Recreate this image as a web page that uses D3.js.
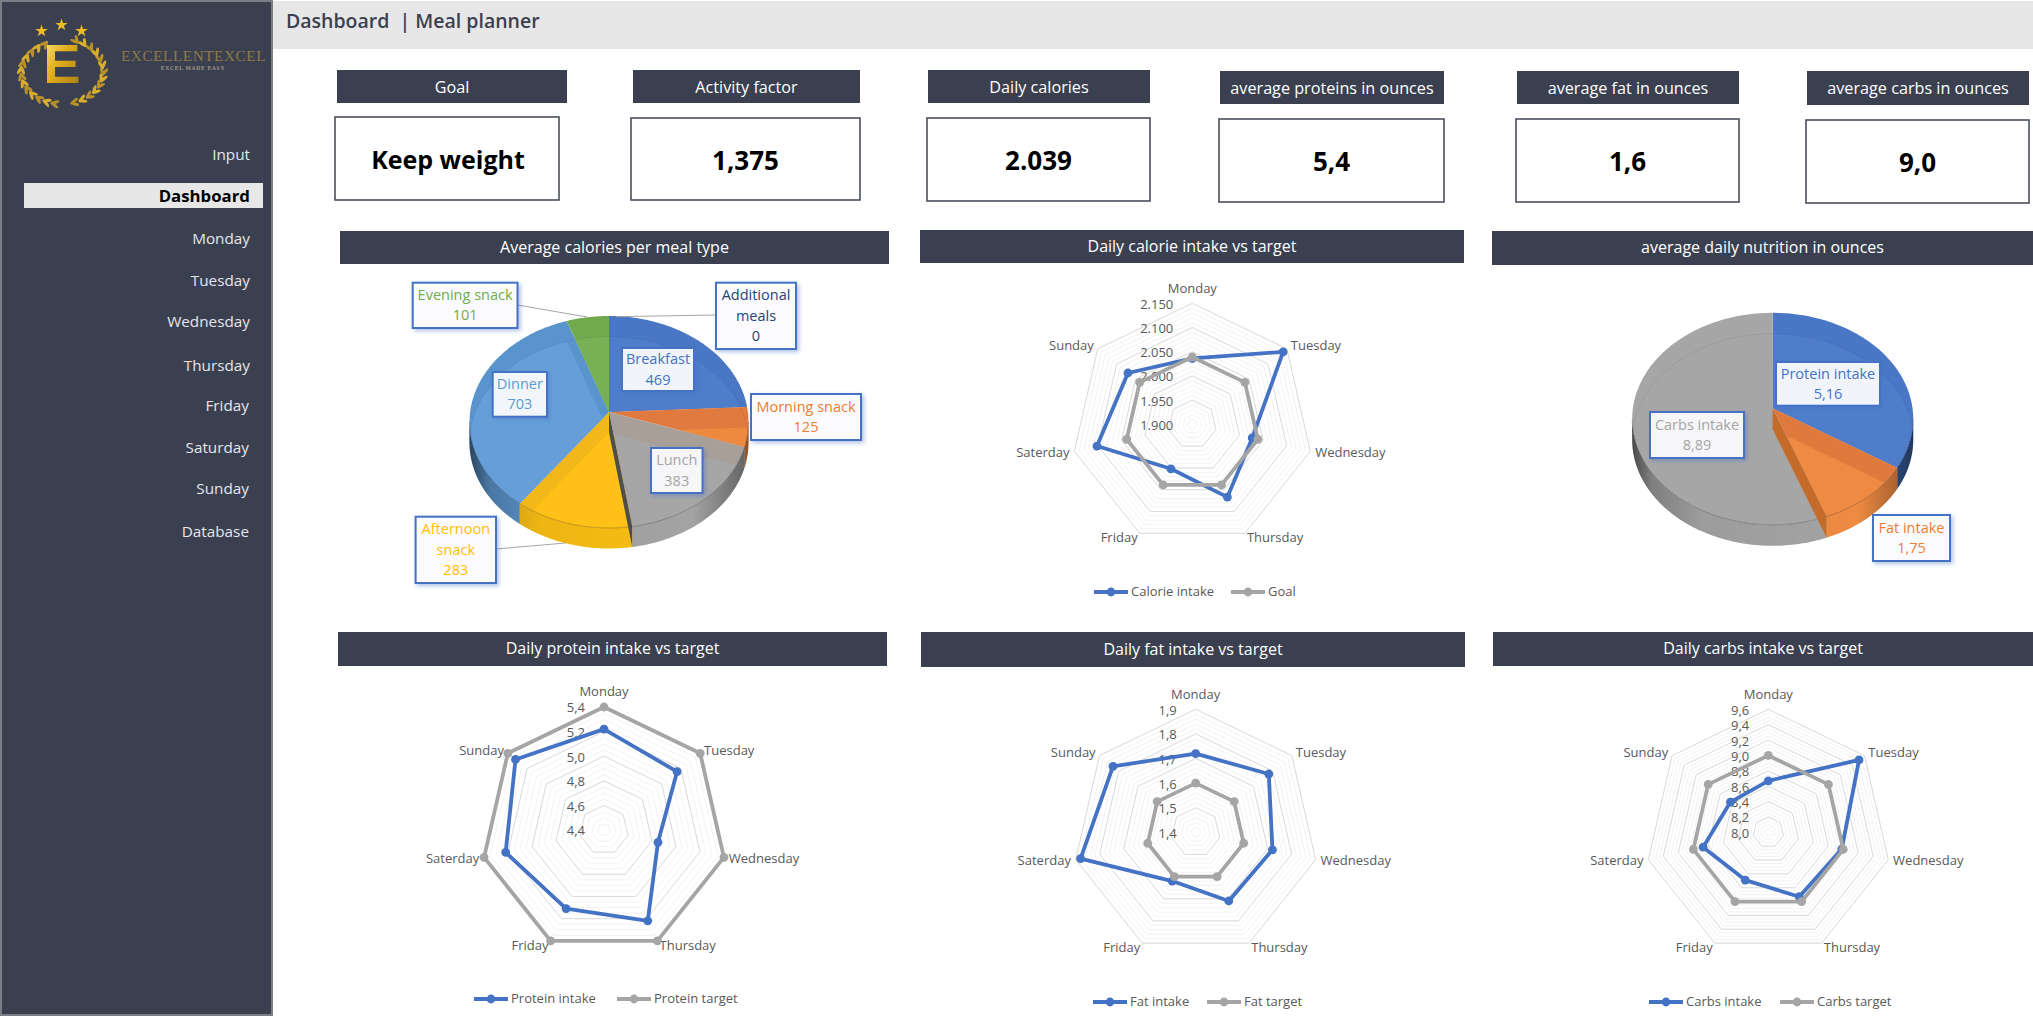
<!DOCTYPE html>
<html>
<head>
<meta charset="utf-8">
<title>Dashboard | Meal planner</title>
<script src="https://cdn.jsdelivr.net/npm/d3@7"></script>
<style>
  html, body { margin: 0; padding: 0; background: #fff; overflow: hidden; }
  svg { display: block; }
  text { font-family: "Open Sans", "Noto Sans", sans-serif; }
</style>
</head>
<body>
<div id="chart"></div>
<script>
// values
var days = ["Monday", "Tuesday", "Wednesday", "Thursday", "Friday", "Saterday", "Sunday"];
var menuItems = ["Input", "Dashboard", "Monday", "Tuesday", "Wednesday", "Thursday", "Friday", "Saturday", "Sunday", "Database"];

var kpiNames = ["Goal", "Activity factor", "Daily calories", "average proteins in ounces", "average fat in ounces", "average carbs in ounces"];
var kpiValues = ["Keep weight", "1,375", "2.039", "5,4", "1,6", "9,0"];

var mealNames = ["Breakfast", "Morning snack", "Lunch", "Afternoon snack", "Dinner", "Evening snack", "Additional meals"];
var mealCalories = [469, 125, 383, 283, 703, 101, 0];

var nutritionNames = ["Protein intake", "Fat intake", "Carbs intake"];
var nutritionOunces = [5.16, 1.75, 8.89];

var calorieIntake = [2036, 2140, 2027, 2067, 2002, 2102, 2070];
var calorieGoal = [2039, 2039, 2039, 2039, 2039, 2039, 2039];
var calorieTicks = [1900, 1950, 2000, 2050, 2100, 2150];

var proteinIntake = [5.22, 5.16, 4.85, 5.22, 5.11, 5.22, 5.32];
var proteinTarget = [5.4, 5.4, 5.4, 5.4, 5.4, 5.4, 5.4];
var proteinTicks = [4.4, 4.6, 4.8, 5.0, 5.2, 5.4];

var fatIntake = [1.72, 1.78, 1.72, 1.71, 1.62, 1.88, 1.83];
var fatTarget = [1.6, 1.6, 1.6, 1.6, 1.6, 1.6, 1.6];
var fatTicks = [1.4, 1.5, 1.6, 1.7, 1.8, 1.9];

var carbsIntake = [8.67, 9.51, 8.98, 8.93, 8.69, 8.87, 8.63];
var carbsTarget = [9.0, 9.0, 9.0, 9.0, 9.0, 9.0, 9.0];
var carbsTicks = [8.0, 8.2, 8.4, 8.6, 8.8, 9.0, 9.2, 9.4, 9.6];

var width = 2033, height = 1036;
var navy = "#3b4050";
var blue = "#4472c4", gray = "#a5a5a5";

var locale = d3.formatLocale({decimal: ",", thousands: ".", grouping: [3], currency: ["", ""]});
var fmtThousands = locale.format(",.0f"), fmtOne = locale.format(".1f"), fmtTwo = locale.format(".2f");

var svg = d3.select("#chart").append("svg")
    .attr("width", width)
    .attr("height", height);

var defs = svg.append("defs");

var shadow = defs.append("filter").attr("id", "shadow")
    .attr("x", "-20%").attr("y", "-20%").attr("width", "150%").attr("height", "150%");
shadow.append("feDropShadow")
    .attr("dx", 2).attr("dy", 2).attr("stdDeviation", 2)
    .attr("flood-color", "#4472c4").attr("flood-opacity", 0.45);

var gold = defs.append("linearGradient").attr("id", "gold")
    .attr("x1", 0).attr("y1", 0).attr("x2", 1).attr("y2", 1);
gold.append("stop").attr("offset", "0%").attr("stop-color", "#fdeb8a");
gold.append("stop").attr("offset", "45%").attr("stop-color", "#e0ad1c");
gold.append("stop").attr("offset", "100%").attr("stop-color", "#9a7412");

var wallShade = defs.append("linearGradient").attr("id", "wallShade");
wallShade.append("stop").attr("offset", "0%").attr("stop-color", "#000").attr("stop-opacity", 0.55);
wallShade.append("stop").attr("offset", "7%").attr("stop-color", "#000").attr("stop-opacity", 0.22);
wallShade.append("stop").attr("offset", "25%").attr("stop-color", "#000").attr("stop-opacity", 0.04);
wallShade.append("stop").attr("offset", "80%").attr("stop-color", "#000").attr("stop-opacity", 0);
wallShade.append("stop").attr("offset", "100%").attr("stop-color", "#000").attr("stop-opacity", 0.4);

// sidebar and header band
svg.append("rect").attr("x", 1).attr("y", 1).attr("width", 271).attr("height", 1014)
    .attr("fill", navy).attr("stroke", "#7c7e85").attr("stroke-width", 2);
svg.append("rect").attr("x", 273).attr("y", 1).attr("width", width - 273).attr("height", 48).attr("fill", "#e7e7e7");
svg.append("text").attr("x", 286).attr("y", 23)
    .attr("fill", navy).attr("font-size", 19.5).attr("font-weight", 600)
    .attr("dominant-baseline", "middle").attr("xml:space", "preserve")
    .text("Dashboard  | Meal planner");

// logo
var logo = svg.append("g");
var starSym = d3.symbol().type(d3.symbolStar).size(48);
[[41.5, 31], [61.5, 25], [81.5, 31]].forEach(function (p) {
    logo.append("path").attr("d", starSym).attr("transform", "translate(" + p + ")").attr("fill", "#eebb22");
});
[-1, 1].forEach(function (side) {
    d3.range(14, 166, 12).forEach(function (deg, i) {
        var a = deg * Math.PI / 180;
        var px = 62 + side * 41 * Math.sin(a), py = 72 + 32 * Math.cos(a);
        var tilt = side * (deg > 90 ? 90 + (deg - 90) * 0.6 : deg * 0.9);
        [-28, 28].forEach(function (off) {
            logo.append("ellipse")
                .attr("rx", 4.6).attr("ry", 1.6)
                .attr("transform", "translate(" + px + "," + py + ") rotate(" + (-tilt + off) + ") translate(3,0)")
                .attr("fill", i % 2 ? "#d8ad30" : "#b8902a");
        });
    });
});
logo.append("text").attr("x", 62).attr("y", 83).attr("text-anchor", "middle")
    .attr("font-size", 56).attr("font-weight", 700).attr("fill", "url(#gold)")
    .style("font-family", "'Liberation Sans', sans-serif").text("E");
logo.append("text").attr("x", 193.5).attr("y", 61).attr("text-anchor", "middle")
    .attr("font-size", 15.2).attr("fill", "#8e7a48").attr("letter-spacing", 0.6)
    .style("font-family", "'Liberation Serif', serif").text("EXCELLENTEXCEL");
logo.append("text").attr("x", 193).attr("y", 70).attr("text-anchor", "middle")
    .attr("font-size", 5.6).attr("font-weight", 700).attr("fill", "#a09a88").attr("letter-spacing", 0.7)
    .style("font-family", "'Liberation Serif', serif").text("EXCEL MADE EASY");

// menu
var menuY = [156, 197, 240, 282, 323, 367, 407, 449, 490, 533];
var menuRight = [250, 250, 250, 250, 250, 250, 249, 249, 249, 249];
svg.append("rect").attr("x", 24).attr("y", 183).attr("width", 239).attr("height", 25).attr("fill", "#e7e7e7");
svg.selectAll(".menu")
    .data(menuItems)
  .enter().append("text")
    .attr("class", "menu")
    .attr("x", function (d, i) { return menuRight[i]; })
    .attr("y", function (d, i) { return menuY[i]; })
    .attr("text-anchor", "end")
    .attr("dominant-baseline", "middle")
    .attr("font-size", function (d) { return d === "Dashboard" ? 16.8 : 15.3; })
    .attr("font-weight", function (d) { return d === "Dashboard" ? 700 : 400; })
    .attr("fill", function (d) { return d === "Dashboard" ? "#000" : "#e4e6ea"; })
    .text(function (d) { return d; });

// kpi cards
var kpiHead = [[337, 70, 230, 33], [633, 70, 227, 33], [928, 70, 222, 33], [1220, 71, 224, 33], [1517, 71, 222, 33], [1807, 71, 222, 34]];
var kpiBox = [[335, 117, 224, 83], [631, 118, 229, 82], [927, 118, 223, 83], [1219, 119, 225, 83], [1516, 119, 223, 83], [1806, 120, 223, 83]];
kpiNames.forEach(function (name, i) {
    var h = kpiHead[i], b = kpiBox[i];
    svg.append("rect").attr("x", h[0]).attr("y", h[1]).attr("width", h[2]).attr("height", h[3]).attr("fill", navy);
    svg.append("text").attr("x", h[0] + h[2] / 2).attr("y", h[1] + h[3] / 2 + 2)
        .attr("text-anchor", "middle").attr("dominant-baseline", "middle")
        .attr("font-size", 16.2).attr("fill", "#fff").text(name);
    svg.append("rect").attr("x", b[0]).attr("y", b[1]).attr("width", b[2]).attr("height", b[3])
        .attr("fill", "#fff").attr("stroke", "#4a4f5c").attr("stroke-width", 1.6);
    svg.append("text").attr("x", b[0] + b[2] / 2 + (i === 0 ? 1 : 0)).attr("y", b[1] + b[3] / 2 + 4)
        .attr("text-anchor", "middle").attr("dominant-baseline", "middle")
        .attr("font-size", i === 0 ? 25 : 26).attr("font-weight", 700).attr("fill", "#000").text(kpiValues[i]);
});

// chart title bars
var titles = [
    ["Average calories per meal type", 340, 231, 549, 33],
    ["Daily calorie intake vs target", 920, 230, 544, 33],
    ["average daily nutrition in ounces", 1492, 231, 541, 34],
    ["Daily protein intake vs target", 338, 632, 549, 34],
    ["Daily fat intake vs target", 921, 632, 544, 35],
    ["Daily carbs intake vs target", 1493, 632, 540, 34]
];
titles.forEach(function (t) {
    svg.append("rect").attr("x", t[1]).attr("y", t[2]).attr("width", t[3]).attr("height", t[4]).attr("fill", navy);
    svg.append("text").attr("x", t[1] + t[3] / 2).attr("y", t[2] + t[4] / 2 + 1)
        .attr("text-anchor", "middle").attr("dominant-baseline", "middle")
        .attr("font-size", 16).attr("fill", "#fff").text(t[0]);
});

// radar charts
function drawRadar(c) {
    var g = svg.append("g").attr("transform", "translate(" + c.cx + "," + c.cy + ")");
    var step = 2 * Math.PI / days.length;
    var r = d3.scaleLinear().domain(d3.extent(c.ticks)).range([0, c.radius]);
    var ring = d3.lineRadial()
        .curve(d3.curveLinearClosed)
        .angle(function (d, i) { return i * step; })
        .radius(function (d) { return r(d); });

    r.ticks(c.minor).forEach(function (t) {
        g.append("path").attr("d", ring(days.map(function () { return t; })))
            .attr("fill", "none").attr("stroke", "#efefef").attr("stroke-width", 0.8);
    });
    c.ticks.slice(1).forEach(function (t) {
        g.append("path").attr("d", ring(days.map(function () { return t; })))
            .attr("fill", "none").attr("stroke", "#dcdcdc").attr("stroke-width", 1);
    });

    c.ticks.forEach(function (t) {
        g.append("text").attr("x", -19).attr("y", -r(t) + 2)
            .attr("text-anchor", "end").attr("dominant-baseline", "middle")
            .attr("font-size", 13).attr("fill", "#595959").text(c.format(t));
    });

    days.forEach(function (day, i) {
        var p = d3.pointRadial(i * step, c.radius + 5);
        var anchor = i === 0 ? "middle" : (i < 4 ? "start" : "end");
        g.append("text").attr("x", p[0]).attr("y", p[1] + 1 - (i === 0 ? 10 : 0))
            .attr("text-anchor", anchor).attr("dominant-baseline", "middle")
            .attr("font-size", 13).attr("fill", "#595959").text(day);
    });

    c.series.forEach(function (s) {
        g.append("path").attr("d", ring(s.values))
            .attr("fill", "none").attr("stroke", s.color).attr("stroke-width", 3.8).attr("stroke-linejoin", "round");
        g.selectAll(null)
            .data(s.values)
          .enter().append("circle")
            .attr("r", 4.4)
            .attr("cx", function (d, i) { return d3.pointRadial(i * step, r(d))[0]; })
            .attr("cy", function (d, i) { return d3.pointRadial(i * step, r(d))[1]; })
            .attr("fill", s.color);
    });

    c.series.forEach(function (s, i) {
        var x = c.legendX[i];
        var item = svg.append("g").attr("transform", "translate(" + x + "," + c.legendY + ")");
        item.append("line").attr("x1", 0).attr("x2", 34).attr("stroke", s.color).attr("stroke-width", 3.8);
        item.append("circle").attr("cx", 17).attr("r", 4.4).attr("fill", s.color);
        item.append("text").attr("x", 37).attr("y", 1).attr("dominant-baseline", "middle")
            .attr("font-size", 13).attr("fill", "#595959").text(s.name);
    });
}

drawRadar({
    cx: 1192.3, cy: 424.3, radius: 121, ticks: calorieTicks, minor: 25, format: fmtThousands,
    legendX: [1094, 1231], legendY: 592,
    series: [{name: "Calorie intake", values: calorieIntake, color: blue}, {name: "Goal", values: calorieGoal, color: gray}]
});
drawRadar({
    cx: 604, cy: 830, radius: 123, ticks: proteinTicks, minor: 25, format: fmtOne,
    legendX: [474, 617], legendY: 999,
    series: [{name: "Protein intake", values: proteinIntake, color: blue}, {name: "Protein target", values: proteinTarget, color: gray}]
});
drawRadar({
    cx: 1195.7, cy: 832.3, radius: 123, ticks: fatTicks, minor: 25, format: fmtOne,
    legendX: [1093, 1207], legendY: 1002,
    series: [{name: "Fat intake", values: fatIntake, color: blue}, {name: "Fat target", values: fatTarget, color: gray}]
});
drawRadar({
    cx: 1768.3, cy: 832.3, radius: 123, ticks: carbsTicks, minor: 40, format: fmtOne,
    legendX: [1649, 1780], legendY: 1002,
    series: [{name: "Carbs intake", values: carbsIntake, color: blue}, {name: "Carbs target", values: carbsTarget, color: gray}]
});

// 3d pies
var pieCount = 0;
function drawPie3d(c) {
    var id = "pie" + (pieCount++);
    var g = svg.append("g").attr("transform", "translate(" + c.cx + "," + c.cy + ")");
    var slices = d3.pie().sort(null)(c.values);
    var line = d3.line();

    function edge(a, dy) { return [c.rx * Math.sin(a), -c.ry * Math.cos(a) + (dy || 0)]; }
    function arcPoints(a0, a1, dy) {
        var n = Math.max(2, Math.ceil(Math.abs(a1 - a0) / 0.02));
        return d3.range(n + 1).map(function (k) { return edge(a0 + (a1 - a0) * k / n, dy); });
    }
    function face(s, dy) {
        return line([[0, -c.apexLift + dy]].concat(arcPoints(s.startAngle, s.endAngle, dy))) + "Z";
    }

    // outer wall along the front half
    var front0 = Math.PI / 2, front1 = Math.PI * 3 / 2;
    slices.forEach(function (s, i) {
        var a0 = Math.max(s.startAngle, front0), a1 = Math.min(s.endAngle, front1);
        if (a1 <= a0) return;
        g.append("path")
            .attr("d", line(arcPoints(a0, a1, 0).concat(arcPoints(a1, a0, c.depth))) + "Z")
            .attr("fill", c.walls[i]);
    });
    g.append("path")
        .attr("d", line(arcPoints(front0, front1, 0).concat(arcPoints(front1, front0, c.depth))) + "Z")
        .attr("fill", "url(#wallShade)");

    // top faces: dark band where the base does not show through
    slices.forEach(function (s, i) {
        if (s.endAngle === s.startAngle) return;
        var clip = id + "-clip" + i;
        defs.append("clipPath").attr("id", clip).append("path").attr("d", face(s, 0));
        g.append("path").attr("d", face(s, 0)).attr("fill", c.bands[i]);
        g.append("path").attr("d", face(s, c.depth)).attr("fill", c.colors[i]).attr("clip-path", "url(#" + clip + ")");
    });
    g.append("path")
        .attr("d", line(arcPoints(-Math.PI / 2, Math.PI / 2, c.depth)))
        .attr("fill", "none").attr("stroke", "#000").attr("stroke-opacity", 0.06);
    g.append("path")
        .attr("d", line(arcPoints(Math.PI / 2, Math.PI * 3 / 2, 0)))
        .attr("fill", "none").attr("stroke", "#000").attr("stroke-opacity", 0.22);

    // cut face that turns towards the viewer
    slices.forEach(function (s, i) {
        if (s.endAngle < Math.PI * 0.75 || s.endAngle > Math.PI) return;
        var p = edge(s.endAngle, 0), q = edge(s.endAngle, c.depth);
        g.append("path")
            .attr("d", line([[0, -c.apexLift], p, q, [0, -c.apexLift + c.depth]]) + "Z")
            .attr("fill", c.cuts[i]);
    });

    // leader lines
    c.leaders.forEach(function (l) {
        svg.append("path").attr("d", line(l)).attr("fill", "none").attr("stroke", "#a6a6a6").attr("stroke-width", 1);
    });

    // data labels
    c.names.forEach(function (name, i) {
        var b = c.boxes[i];
        svg.append("rect").attr("x", b[0]).attr("y", b[1]).attr("width", b[2]).attr("height", b[3])
            .attr("fill", "#fff").attr("fill-opacity", 0.9)
            .attr("stroke", c.frame).attr("stroke-width", 2)
            .attr("filter", "url(#shadow)");
        var rows = c.wraps[i].concat([c.format(c.values[i])]);
        rows.forEach(function (row, k) {
            svg.append("text")
                .attr("x", b[0] + b[2] / 2)
                .attr("y", b[1] + b[3] / 2 + 1 + (k - (rows.length - 1) / 2) * 20.3)
                .attr("text-anchor", "middle").attr("dominant-baseline", "middle")
                .attr("font-size", 14.5).attr("fill", c.labels[i]).text(row);
        });
    });
}

drawPie3d({
    cx: 609, cy: 422, rx: 139.5, ry: 106, apexLift: 10, depth: 20.5,
    names: mealNames, values: mealCalories, format: fmtThousands, frame: "#4472c4",
    colors: ["#4f7dc9", "#ee8a3f", "#a6a6a6", "#ffc117", "#669fd8", "#78b155", "#264478"],
    bands: ["#4a77c5", "#e07a3e", "#a89f98", "#f2b81a", "#5a94cd", "#70a94e", "#264478"],
    walls: ["#4472c4", "#ee8c45", "#a3a3a3", "#f8bd14", "#5d97d0", "#70ad47", "#264478"],
    cuts: ["", "", "#4f4f49", "", "", "", ""],
    labels: ["#4472c4", "#ed7d31", "#a5a5a5", "#ffc000", "#5b9bd5", "#70ad47", "#264478"],
    wraps: [["Breakfast"], ["Morning snack"], ["Lunch"], ["Afternoon", "snack"], ["Dinner"], ["Evening snack"], ["Additional", "meals"]],
    boxes: [[622, 348, 72, 43], [751, 394, 110, 46], [651, 448, 51.5, 45], [415.6, 516.7, 80.4, 66.3], [492.7, 372, 54.3, 44.7], [412.7, 282.7, 104.8, 45.3], [716, 282.7, 80, 66.3]],
    leaders: [[[517.5, 305], [587, 317]], [[716, 315], [616, 316.7]], [[496, 549], [565.5, 543]]]
});

drawPie3d({
    cx: 1772.7, cy: 418.8, rx: 140.5, ry: 106, apexLift: 10.5, depth: 21,
    names: nutritionNames, values: nutritionOunces, format: fmtTwo, frame: "#4472c4",
    colors: ["#4f7dc9", "#ee8a42", "#a6a6a6"],
    bands: ["#4a77c5", "#df7a3c", "#a6a6a6"],
    walls: ["#3a5f9e", "#ee8a42", "#a3a3a3"],
    cuts: ["", "#c46b2a", ""],
    labels: ["#4472c4", "#ed7d31", "#a5a5a5"],
    wraps: [["Protein intake"], ["Fat intake"], ["Carbs intake"]],
    boxes: [[1776, 362, 104, 43.7], [1873, 515, 77, 46], [1650, 412, 94, 46]],
    leaders: []
});
</script>
</body>
</html>
